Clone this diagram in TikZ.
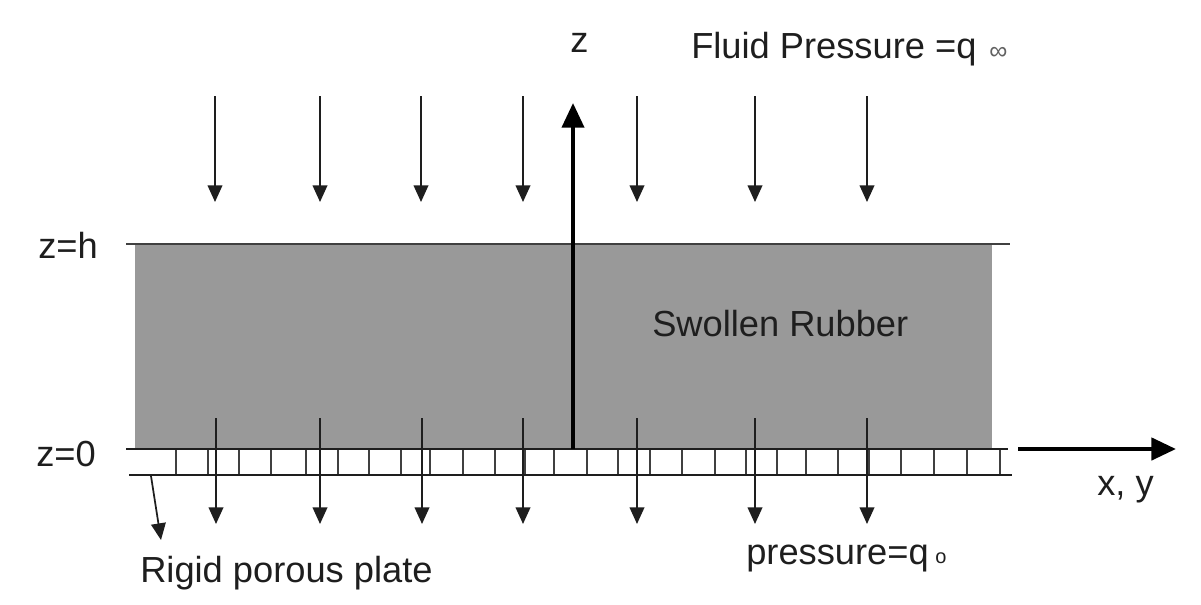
\documentclass[tikz,border=0pt]{standalone}
\usepackage{fontspec}
\setmainfont{Liberation Sans}
\usetikzlibrary{arrows.meta}
\definecolor{ink}{HTML}{1E1E1E}
\definecolor{rubber}{HTML}{999999}
\tikzset{
  x=0.75pt,y=-0.75pt,
  lbl/.style={inner sep=0pt,anchor=base west,text=ink,font=\fontsize{27.2}{30}\selectfont},
  small/.style={inner sep=0pt,anchor=base west,text=ink!70,font=\fontsize{19}{22}\selectfont},
  thin arrow/.style={draw=ink,line width=1.3pt,-{Triangle[length=12.5pt,width=11pt]}},
  thick arrow/.style={draw=black,line width=3pt,-{Triangle[length=18.5pt,width=16.5pt]}},
  plate/.style={draw=ink,line width=1.8pt},
  tick/.style={draw=ink!85,line width=1.4pt}
}
\begin{document}
\begin{tikzpicture}
\useasboundingbox (0,0) rectangle (1201,604);
\fill[white] (0,0) rectangle (1201,604);
\fill[rubber] (135,244) rectangle (992,449);
\draw[plate,draw=ink!85,line width=1.5pt] (126,244) -- (1010,244);
% porous plate
\foreach \px in {176,208,239,271,306,338,369,401,430,463,495,554,587,618,650,682,715,746,777,806,838,901,934,967,1000}
  \draw[tick] (\px,449) -- (\px,475);
\draw[tick,line width=2.4pt] (524,449) -- (524,475);
\draw[tick,line width=2.4pt] (868,449) -- (868,475);
\draw[plate] (126,449) -- (1008,449);
\draw[plate] (129,475) -- (1012,475);
% labels
\node[lbl] (zlabel) at (570,52) {z};
\node[lbl] (fluid) at (691,58) {Fluid Pressure =q};
\node[small] (inf) at (989,59) {∞};
\node[lbl] (zh) at (38,258) {z=h};
\node[lbl] (zo) at (36,466) {z=0};
\node[lbl] (rubberlabel) at (652,336) {Swollen Rubber};
\node[lbl] (xy) at (1097,495) {x, y};
\node[lbl] (press) at (746,564) {pressure=q};
\node[small,font=\fontsize{15}{18}\selectfont,text=ink] (subo) at (935,563) {o};
\node[lbl] (rigid) at (140,582) {Rigid porous plate};
% pressure arrows
\foreach \n/\ax in {a/215,b/320,c/421,d/523,e/637,f/755,g/867}{
  \coordinate (top\n) at (\ax,96);
  \coordinate (tip\n) at (\ax,202);
  \draw[thin arrow] (top\n) -- (tip\n);
}
\foreach \n/\ax in {a/216,b/320,c/422,d/523,e/637,f/755,g/867}{
  \coordinate (low\n) at (\ax,418);
  \coordinate (end\n) at (\ax,524);
  \draw[thin arrow] (low\n) -- (end\n);
}
% axes
\coordinate (origin) at (573,449);
\coordinate (ztip) at (573,103);
\draw[thick arrow] (origin) -- (ztip);
\coordinate (xstart) at (1018,449);
\coordinate (xtip) at (1176,449);
\draw[thick arrow,line width=3.4pt] (xstart) -- (xtip);
% leader
\coordinate (leadstart) at (151,476);
\coordinate (leadend) at (161,540);
\draw[thin arrow] (leadstart) -- (leadend);
\end{tikzpicture}
\end{document}
